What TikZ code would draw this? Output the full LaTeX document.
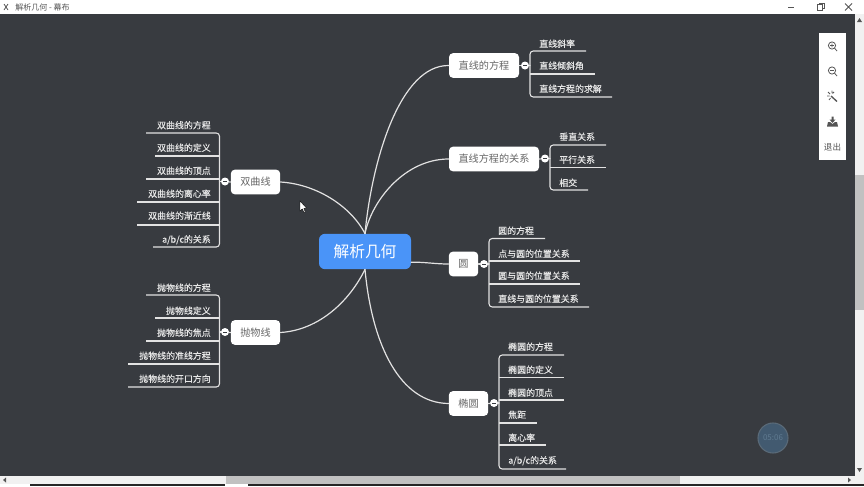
\documentclass[tikz,border=0pt]{standalone}
\usepackage{fontspec}
\setmainfont{Noto Sans CJK SC}
\newfontfamily\leaffont[FakeBold=0.25]{Noto Sans CJK SC}
\definecolor{bgdark}{HTML}{383B40}
\definecolor{rootblue}{HTML}{4A94F8}
\definecolor{leaftext}{HTML}{E6E6E6}
\definecolor{boxtext}{HTML}{666666}
\definecolor{linecol}{HTML}{E2E2E2}
\definecolor{chrome}{HTML}{F1F1F1}
\definecolor{thumb}{HTML}{C1C1C1}
\definecolor{icon}{HTML}{555555}
\definecolor{timerfill}{HTML}{425A70}
\definecolor{timerrim}{HTML}{5A6A78}
\definecolor{timertext}{HTML}{5F7A90}
\tikzset{
  x=0.75pt,y=-0.75pt,
  rootbox/.style={fill=rootblue,rounded corners=4.5pt,minimum width=69pt,minimum height=26.5pt,inner sep=0pt,text=white,font=\fontsize{11.8pt}{14pt}\selectfont},
  topicbox/.style={fill=white,rounded corners=3pt,minimum height=18.5pt,inner sep=0pt,text=boxtext,font=\fontsize{7.6pt}{9pt}\selectfont},
  leaf/.style={inner sep=0pt,text=leaftext,font=\leaffont\fontsize{6.7pt}{8pt}\selectfont},
  hubdot/.style={circle,fill=white,minimum size=6pt,inner sep=0pt},
  wire/.style={draw=linecol,line width=0.9pt,line cap=round},
  rail/.style={draw=linecol,line width=0.8pt,rounded corners=2.4pt},
  under/.style={draw=linecol,line width=0.8pt},
  iconline/.style={draw=icon,line width=0.6pt},
}
% name, text x, text y, underline y, underline far x, text
\newcommand\rleaf[6]{\node[leaf,anchor=west] (#1) at (#2,#3+0.7) {#6};\coordinate (#1e) at (#5,#4);}
\newcommand\lleaf[6]{\node[leaf,anchor=east] (#1) at (#2,#3+0.7) {#6};\coordinate (#1e) at (#5,#4);}
\newcommand\hubmark[1]{\draw[bgdark,line width=0.5pt] ([xshift=-1.5pt]#1.center) -- ([xshift=1.5pt]#1.center);}
\begin{document}
\begin{tikzpicture}
\useasboundingbox (0,0) rectangle (864,486);
% window
\fill[bgdark] (0,0) rectangle (864,486);
\fill[white] (0,0) rectangle (864,14);
\fill[chrome] (855,14) rectangle (864,476);
\fill[chrome] (0,476) rectangle (864,484);
\fill[thumb] (855,175) rectangle (864,310);
\fill[thumb] (226,476) rectangle (680,484);
\fill[black!85] (0,484) rectangle (864,486);
\fill[white] (0,484) rectangle (30,486);
\fill[white] (225,484) rectangle (248,486);
\fill[icon] (859.5,18) -- (857,22) -- (862,22) -- cycle;
\fill[icon] (859.5,472) -- (857,468) -- (862,468) -- cycle;
\fill[icon] (3,480) -- (6,477.5) -- (6,482.5) -- cycle;
\fill[icon] (851,480) -- (848,477.5) -- (848,482.5) -- cycle;
\draw[iconline] (4,4) -- (8,10) (8,4) -- (4,10);
\node[anchor=west,inner sep=0pt,text=icon,font=\fontsize{6pt}{7pt}\selectfont] (title) at (15,7) {解析几何 - 幕布};
\draw[iconline] (788,7) -- (794,7);
\draw[iconline] (817,4.5) rectangle (822,10) (819,4.5) -- (819,3) -- (824,3) -- (824,8) -- (822,8);
\draw[iconline] (845,3.5) -- (852,10.5) (852,3.5) -- (845,10.5);
% toolbar
\fill[white] (819,33) rectangle (846,160);
\draw[iconline] (832,45.5) circle (3.6) (834.6,48.2) -- (837,51) (830.2,45.5) -- (833.8,45.5) (832,43.7) -- (832,47.3);
\draw[iconline] (832,70.5) circle (3.6) (834.6,73.2) -- (837,76) (830.2,70.5) -- (833.8,70.5);
\draw[draw=icon,line width=1pt] (831,96) -- (837,101.5);
\draw[iconline] (828,92) -- (830,94) (832,90.5) -- (832,93) (827,96) -- (829.5,96) (834,92) -- (832.5,93.5) (829,100) -- (830.5,98);
\fill[icon] (828,122) -- (830,122) -- (832.5,124) -- (835,122) -- (837,122) -- (838,126.5) -- (827,126.5) -- cycle;
\fill[icon] (831.5,116.5) -- (833.5,116.5) -- (833.5,119.5) -- (835.5,119.5) -- (832.5,123) -- (829.5,119.5) -- (831.5,119.5) -- cycle;
\node[inner sep=0pt,text=icon,font=\fontsize{6.4pt}{7pt}\selectfont] (quit) at (832.5,147) {退出};
% timer
\fill[timerfill,draw=timerrim,line width=0.8pt] (773,438) circle (15);
\node[inner sep=0pt,text=timertext,font=\fontsize{6pt}{7pt}\selectfont] (timer) at (773,438) {05:06};
% root and topics
\node[rootbox] (root) at (365,251.5) {解析几何};
\node[topicbox,minimum width=52.5pt] (line) at (484,65.5) {直线的方程};
\node[topicbox,minimum width=67.5pt] (rel) at (494,159) {直线方程的关系};
\node[topicbox,minimum width=22pt] (circ) at (463.5,264) {圆};
\node[topicbox,minimum width=29.5pt] (ell) at (468.5,403.5) {椭圆};
\node[topicbox,minimum width=37pt] (hyp) at (255.5,182) {双曲线};
\node[topicbox,minimum width=37pt] (par) at (255.5,332.5) {抛物线};
% curves
\draw[wire] (root.north) .. controls (372,160) and (400,65) .. (line.west);
\draw[wire] (root.north) .. controls (372,200) and (405,159) .. (rel.west);
\draw[wire] ([yshift=-8pt]root.east) .. controls (425,262) and (435,264) .. (circ.west);
\draw[wire] (root.south) .. controls (372,345) and (400,403) .. (ell.west);
\draw[wire] (root.north) .. controls (350,205) and (315,184) .. (hyp.east);
\draw[wire] (root.south) .. controls (350,300) and (320,330) .. (par.east);
% hubs
\node[hubdot] (hline) at (525,65.5) {};
\node[hubdot] (hrel) at (545,158.5) {};
\node[hubdot] (hcirc) at (484,264) {};
\node[hubdot] (hell) at (494,403) {};
\node[hubdot] (hhyp) at (225,181.5) {};
\node[hubdot] (hpar) at (225,332) {};
\draw[wire] (line.east) -- (hline); \draw[wire] (rel.east) -- (hrel);
\draw[wire] (circ.east) -- (hcirc); \draw[wire] (ell.east) -- (hell);
\draw[wire] (hyp.west) -- (hhyp); \draw[wire] (par.west) -- (hpar);
% line leaves
\rleaf{a1}{539}{43}{51}{586}{直线斜率}
\rleaf{a2}{539}{65}{74}{595}{直线倾斜角}
\rleaf{a3}{539}{88}{97}{612}{直线方程的求解}
\draw[rail] (a1e) -- (530,51) -- (530,97) -- (a3e);
\draw[under] (530,74) -- (a2e);
\draw[wire] (hline) -- (530,65.5);
% relation leaves
\rleaf{b1}{559}{136}{145}{606}{垂直关系}
\rleaf{b2}{559}{159}{167.5}{606}{平行关系}
\rleaf{b3}{559}{182}{190}{588}{相交}
\draw[rail] (b1e) -- (550,145) -- (550,190) -- (b3e);
\draw[under] (550,167.5) -- (b2e);
\draw[wire] (hrel) -- (550,158.5);
% circle leaves
\rleaf{c1}{498}{230}{238.5}{545}{圆的方程}
\rleaf{c2}{498}{253}{261}{580}{点与圆的位置关系}
\rleaf{c3}{498}{275}{284}{580}{圆与圆的位置关系}
\rleaf{c4}{498}{298}{307}{589}{直线与圆的位置关系}
\draw[rail] (c1e) -- (489,238.5) -- (489,307) -- (c4e);
\draw[under] (489,261) -- (c2e); \draw[under] (489,284) -- (c3e);
\draw[wire] (hcirc) -- (489,264);
% ellipse leaves
\rleaf{d1}{508}{346}{355}{564}{椭圆的方程}
\rleaf{d2}{508}{369}{377.5}{564}{椭圆的定义}
\rleaf{d3}{508}{392}{400}{564}{椭圆的顶点}
\rleaf{d4}{508}{414}{423}{537}{焦距}
\rleaf{d5}{508}{437}{445}{546}{离心率}
\rleaf{d6}{508}{460}{469}{566}{a/b/c的关系}
\draw[rail] (d1e) -- (499,355) -- (499,469) -- (d6e);
\draw[under] (499,377.5) -- (d2e); \draw[under] (499,400) -- (d3e);
\draw[under] (499,423) -- (d4e); \draw[under] (499,445) -- (d5e);
\draw[wire] (hell) -- (499,403);
% hyperbola leaves
\lleaf{e1}{211}{124.5}{133}{146}{双曲线的方程}
\lleaf{e2}{211}{147}{156}{155}{双曲线的定义}
\lleaf{e3}{211}{170}{179}{146}{双曲线的顶点}
\lleaf{e4}{211}{193}{202}{137}{双曲线的离心率}
\lleaf{e5}{211}{215}{225}{137}{双曲线的渐近线}
\lleaf{e6}{211}{239}{247}{153}{a/b/c的关系}
\draw[rail] (e1e) -- (219.5,133) -- (219.5,247) -- (e6e);
\draw[under] (219.5,156) -- (e2e); \draw[under] (219.5,179) -- (e3e);
\draw[under] (219.5,202) -- (e4e); \draw[under] (219.5,225) -- (e5e);
\draw[wire] (hhyp) -- (219.5,181.5);
% parabola leaves
\lleaf{f1}{211}{287}{295}{146}{抛物线的方程}
\lleaf{f2}{211}{310}{318}{155}{抛物线定义}
\lleaf{f3}{211}{332}{341}{146}{抛物线的焦点}
\lleaf{f4}{211}{355}{364}{128}{抛物线的准线方程}
\lleaf{f5}{211}{378}{387}{128}{抛物线的开口方向}
\draw[rail] (f1e) -- (219.5,295) -- (219.5,387) -- (f5e);
\draw[under] (219.5,318) -- (f2e); \draw[under] (219.5,341) -- (f3e);
\draw[under] (219.5,364) -- (f4e);
\draw[wire] (hpar) -- (219.5,332);
\hubmark{hline}\hubmark{hrel}\hubmark{hcirc}\hubmark{hell}\hubmark{hhyp}\hubmark{hpar}
% pointer
\fill[white,draw=black,line width=0.3pt] (300,201) -- (300,211) -- (302.3,209) -- (304,212.5) -- (305.3,211.8) -- (303.8,208.5) -- (306.5,208) -- cycle;
\end{tikzpicture}
\end{document}
